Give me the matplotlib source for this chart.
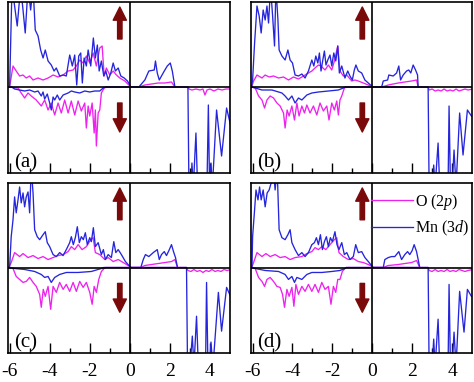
import numpy as np
import matplotlib
matplotlib.use("Agg")
import matplotlib.pyplot as plt
from matplotlib.lines import Line2D

plt.rcParams['font.family'] = ['Liberation Serif', 'DejaVu Serif']
plt.rcParams['axes.unicode_minus'] = False
plt.rcParams['mathtext.fontset'] = 'custom'
plt.rcParams['mathtext.rm'] = 'Liberation Serif'
plt.rcParams['mathtext.it'] = 'Liberation Serif:italic'

# ---------------- data: (energy eV, DOS arb. units) ----------------
a_mn_up = [(-6.00,0),(-5.88,100),(-5.75,81),(-5.62,61),(-5.45,100),(-5.33,77),(-5.22,54),(-5.08,100),(-4.95,77),(-4.83,100),(-4.72,57),(-4.58,51),(-4.45,37),(-4.33,29),(-4.22,37),(-4.08,26),(-3.92,22),(-3.78,16),(-3.67,19),(-3.50,11),(-3.33,12),(-3.17,11),(-3.00,32),(-2.87,21),(-2.75,32),(-2.65,2),(-2.55,31),(-2.45,34),(-2.37,4),(-2.28,29),(-2.17,21),(-2.08,37),(-1.95,21),(-1.82,49),(-1.72,29),(-1.62,42),(-1.53,16),(-1.42,26),(-1.30,11),(-1.20,16),(-1.08,7),(-0.95,14),(-0.83,24),(-0.72,16),(-0.58,19),(-0.45,11),(-0.28,9),(-0.12,6),(0.00,2),(0.05,0),(0.45,0),(0.75,7),(0.95,16),(1.22,17),(1.28,26),(1.37,14),(1.47,7),(1.72,16),(1.87,21),(2.02,24),(2.12,16),(2.25,0)]
a_o_up = [(-6.0,0),(-5.83,21),(-5.67,16),(-5.5,11),(-5.33,12),(-5.17,9),(-5.0,11),(-4.83,7),(-4.58,9),(-4.33,7),(-4.08,9),(-3.83,12),(-3.58,10),(-3.33,12),(-3.08,16),(-2.83,17),(-2.67,21),(-2.5,27),(-2.33,24),(-2.17,31),(-2.0,24),(-1.83,34),(-1.67,21),(-1.5,39),(-1.38,41),(-1.28,11),(-1.17,19),(-1.0,12),(-0.83,16),(-0.67,12),(-0.5,9),(-0.25,6),(0.0,1),(0.05,0),(0.45,0),(0.75,2),(1.42,4),(1.75,4),(2.08,5),(2.25,0)]
a_mn_dn = [(-6.0,0),(-5.9,0),(-5.75,-2),(-5.5,-3),(-5.25,-4),(-5.0,-3),(-4.75,-5),(-4.58,-4),(-4.42,-9),(-4.33,-5),(-4.25,-12),(-4.12,-7),(-4.0,-16),(-3.92,-23),(-3.83,-10),(-3.75,-13),(-3.62,-8),(-3.5,-13),(-3.33,-8),(-3.08,-6),(-2.92,-4),(-2.75,-5),(-2.5,-6),(-2.25,-4),(-2.0,-5),(-1.75,-4),(-1.5,-4),(-1.33,-1),(-1.2,0),(2.9,0),(2.95,-100),(3.05,-100),(3.1,-76),(3.17,-100),(3.3,-46),(3.38,-100),(3.85,-100),(3.92,-18),(3.98,-100),(4.05,-76),(4.12,-100),(4.33,-23),(4.58,-69),(4.83,-21),(5.05,-40)]
a_o_dn = [(-6.0,0),(-5.58,-1),(-5.42,-6),(-5.25,-11),(-5.08,-6),(-4.92,-9),(-4.67,-13),(-4.42,-19),(-4.25,-13),(-4.08,-23),(-3.92,-16),(-3.75,-28),(-3.58,-16),(-3.42,-26),(-3.25,-13),(-3.08,-26),(-2.92,-14),(-2.75,-28),(-2.58,-14),(-2.42,-24),(-2.25,-16),(-2.17,-41),(-2.08,-19),(-2.0,-29),(-1.88,-16),(-1.78,-46),(-1.72,-23),(-1.67,-59),(-1.58,-26),(-1.5,-23),(-1.42,-6),(-1.28,-1),(-1.17,0),(2.9,0),(2.95,-2),(3.1,-3),(3.3,-2),(3.5,-3),(3.65,-2),(3.75,-8),(3.85,-3),(4.0,-2),(4.2,-4),(4.4,-2),(4.6,-3),(4.8,-2),(5.05,-2)]

b_mn_up = [(-6.05,0),(-6.0,7),(-5.9,44),(-5.78,81),(-5.67,71),(-5.57,54),(-5.47,77),(-5.37,67),(-5.28,81),(-5.2,64),(-5.1,100),(-5.0,72),(-4.9,41),(-4.83,100),(-4.73,67),(-4.67,37),(-4.53,31),(-4.37,27),(-4.23,37),(-4.12,27),(-4.0,24),(-3.87,12),(-3.7,11),(-3.53,13),(-3.37,9),(-3.2,16),(-3.03,27),(-2.93,21),(-2.83,31),(-2.73,24),(-2.65,34),(-2.57,16),(-2.48,27),(-2.4,36),(-2.32,22),(-2.23,27),(-2.12,32),(-2.03,21),(-1.93,34),(-1.83,26),(-1.73,41),(-1.65,14),(-1.53,21),(-1.37,9),(-1.23,16),(-1.12,11),(-1.0,7),(-0.9,17),(-0.82,22),(-0.7,16),(-0.53,14),(-0.37,7),(-0.2,4),(-0.03,1),(0.0,0),(0.47,0),(0.55,6),(0.77,7),(0.83,12),(1.05,11),(1.22,14),(1.33,21),(1.42,7),(1.55,12),(1.72,16),(1.83,17),(1.93,14),(2.05,22),(2.17,17),(2.27,12),(2.3,0)]
b_o_up = [(-6.05,0),(-5.95,6),(-5.78,12),(-5.53,9),(-5.37,12),(-5.17,10),(-4.95,11),(-4.7,9),(-4.45,10),(-4.2,7),(-3.95,10),(-3.7,8),(-3.45,11),(-3.2,14),(-3.03,16),(-2.87,19),(-2.7,22),(-2.57,21),(-2.37,17),(-2.2,22),(-2.03,17),(-1.9,26),(-1.73,41),(-1.62,16),(-1.45,11),(-1.28,12),(-1.03,6),(-0.87,7),(-0.7,6),(-0.45,4),(-0.2,2),(0.0,0),(0.47,0),(0.8,2),(1.3,4),(1.63,5),(1.97,6),(2.22,7),(2.3,0)]
b_mn_dn = [(-6.05,0),(-5.87,-1),(-5.53,-3),(-5.03,-3),(-4.53,-6),(-4.37,-9),(-4.2,-13),(-4.03,-9),(-3.87,-16),(-3.7,-11),(-3.53,-13),(-3.28,-8),(-3.03,-6),(-2.7,-5),(-2.2,-4),(-1.7,-3),(-1.45,-1),(-1.35,0),(2.8,0),(2.85,-100),(3.0,-100),(3.08,-78),(3.15,-100),(3.3,-56),(3.38,-100),(3.8,-100),(3.85,-19),(3.92,-100),(4.0,-100),(4.1,-63),(4.2,-100),(4.38,-26),(4.55,-68),(4.77,-23),(4.97,-29),(5.05,-30)]
b_o_dn = [(-6.05,0),(-5.87,-1),(-5.7,-9),(-5.53,-13),(-5.4,-21),(-5.28,-13),(-5.12,-9),(-4.95,-11),(-4.78,-16),(-4.62,-19),(-4.45,-26),(-4.37,-41),(-4.27,-23),(-4.17,-29),(-4.03,-19),(-3.9,-33),(-3.78,-16),(-3.67,-29),(-3.53,-19),(-3.4,-26),(-3.28,-18),(-3.12,-26),(-2.95,-19),(-2.78,-28),(-2.62,-16),(-2.45,-24),(-2.28,-19),(-2.17,-33),(-2.03,-16),(-1.9,-23),(-1.78,-14),(-1.7,-28),(-1.62,-13),(-1.53,-9),(-1.4,-1),(-1.3,0),(2.8,0),(2.85,-3),(3.0,-2),(3.15,-4),(3.3,-3),(3.45,-4),(3.6,-2),(3.75,-4),(3.9,-3),(4.05,-4),(4.2,-2),(4.35,-4),(4.5,-3),(4.65,-2),(4.8,-3),(5.05,-2)]

c_mn_up = [(-6.05,0),(-6.0,0),(-5.92,31),(-5.83,48),(-5.75,71),(-5.67,55),(-5.58,68),(-5.5,81),(-5.42,65),(-5.33,75),(-5.25,61),(-5.17,71),(-5.08,76),(-5.0,55),(-4.92,100),(-4.83,75),(-4.75,38),(-4.62,31),(-4.5,28),(-4.33,33),(-4.22,36),(-4.12,25),(-4.0,21),(-3.83,13),(-3.67,11),(-3.5,15),(-3.33,12),(-3.17,18),(-3.0,25),(-2.92,31),(-2.82,23),(-2.72,30),(-2.62,41),(-2.52,25),(-2.42,31),(-2.32,28),(-2.22,35),(-2.12,23),(-2.0,30),(-1.92,26),(-1.82,40),(-1.72,21),(-1.58,25),(-1.42,13),(-1.32,18),(-1.22,8),(-1.08,13),(-0.92,10),(-0.8,26),(-0.7,15),(-0.58,18),(-0.42,13),(-0.22,6),(0.0,1),(0.05,0),(0.55,0),(0.67,8),(0.78,13),(0.95,11),(1.17,15),(1.37,18),(1.47,8),(1.58,13),(1.72,16),(1.83,12),(1.95,17),(2.08,23),(2.18,16),(2.28,10),(2.38,0)]
c_o_up = [(-6.05,0),(-5.92,5),(-5.75,15),(-5.5,11),(-5.33,14),(-5.08,10),(-4.83,12),(-4.58,9),(-4.33,11),(-4.08,8),(-3.83,10),(-3.58,12),(-3.33,13),(-3.08,16),(-2.92,21),(-2.75,18),(-2.58,23),(-2.38,18),(-2.17,21),(-1.95,28),(-1.83,30),(-1.72,15),(-1.5,13),(-1.25,8),(-1.08,10),(-0.83,6),(-0.58,8),(-0.33,5),(0.0,1),(0.05,0),(0.55,0),(0.75,2),(1.08,3),(1.42,4),(1.75,5),(2.08,6),(2.25,8),(2.38,0)]
c_mn_dn = [(-6.05,0),(-5.75,-1),(-5.25,-2),(-4.75,-4),(-4.42,-7),(-4.25,-10),(-4.08,-9),(-3.92,-15),(-3.75,-10),(-3.5,-7),(-3.17,-5),(-2.58,-5),(-1.92,-4),(-1.42,-1),(-1.3,0),(2.83,0),(2.88,-100),(3.0,-100),(3.12,-69),(3.2,-100),(3.33,-49),(3.42,-100),(3.78,-100),(3.83,-15),(3.9,-100),(3.98,-100),(4.05,-75),(4.15,-100),(4.42,-25),(4.58,-64),(4.83,-20),(5.05,-30)]
c_o_dn = [(-6.05,0),(-5.83,-1),(-5.67,-9),(-5.5,-12),(-5.33,-15),(-5.17,-14),(-5.0,-10),(-4.83,-15),(-4.67,-19),(-4.5,-27),(-4.42,-40),(-4.32,-22),(-4.22,-29),(-4.08,-19),(-3.95,-42),(-3.83,-19),(-3.67,-25),(-3.5,-15),(-3.33,-22),(-3.17,-17),(-3.0,-24),(-2.83,-15),(-2.67,-24),(-2.5,-14),(-2.33,-20),(-2.17,-15),(-2.0,-25),(-1.88,-37),(-1.78,-19),(-1.67,-25),(-1.55,-12),(-1.42,-4),(-1.28,-1),(-1.2,0),(2.83,0),(2.9,-3),(3.05,-4),(3.2,-2),(3.35,-4),(3.5,-3),(3.65,-5),(3.8,-3),(3.95,-4),(4.1,-2),(4.25,-4),(4.4,-3),(4.55,-4),(4.7,-2),(4.85,-3),(5.05,-2)]

d_mn_up = [(-6.05,0),(-6.03,0),(-6.0,31),(-5.9,58),(-5.83,78),(-5.73,68),(-5.65,81),(-5.57,68),(-5.47,78),(-5.37,61),(-5.27,75),(-5.17,78),(-5.07,85),(-4.97,100),(-4.87,78),(-4.77,100),(-4.67,38),(-4.53,30),(-4.37,28),(-4.23,33),(-4.12,38),(-4.03,25),(-3.87,18),(-3.7,12),(-3.53,15),(-3.37,11),(-3.2,15),(-3.03,23),(-2.9,25),(-2.8,30),(-2.7,23),(-2.6,33),(-2.5,18),(-2.4,26),(-2.3,31),(-2.2,21),(-2.1,30),(-2.0,26),(-1.87,36),(-1.77,23),(-1.67,18),(-1.53,25),(-1.4,13),(-1.28,15),(-1.12,8),(-0.95,11),(-0.83,23),(-0.7,15),(-0.53,16),(-0.37,10),(-0.2,6),(0.0,1),(0.05,0),(0.55,0),(0.63,8),(0.8,10),(0.97,11),(1.13,11),(1.33,16),(1.47,8),(1.63,13),(1.77,16),(1.88,13),(2.0,17),(2.1,23),(2.22,16),(2.3,8),(2.38,0)]
d_o_up = [(-6.05,0),(-5.95,5),(-5.78,15),(-5.53,11),(-5.33,14),(-5.12,11),(-4.87,13),(-4.62,10),(-4.37,11),(-4.12,8),(-3.87,10),(-3.53,11),(-3.28,14),(-3.03,16),(-2.87,20),(-2.7,18),(-2.53,21),(-2.33,18),(-2.12,23),(-1.9,28),(-1.78,30),(-1.67,15),(-1.45,11),(-1.2,8),(-0.95,9),(-0.7,6),(-0.45,5),(-0.2,3),(0.0,1),(0.05,0),(0.55,0),(0.8,2),(1.3,3),(1.63,4),(1.97,5),(2.22,7),(2.38,0)]
d_mn_dn = [(-6.05,0),(-5.87,-1),(-5.37,-3),(-4.7,-4),(-4.37,-7),(-4.2,-12),(-4.03,-9),(-3.9,-15),(-3.78,-10),(-3.53,-12),(-3.28,-7),(-3.03,-5),(-2.53,-5),(-2.03,-4),(-1.62,-3),(-1.37,-1),(-1.3,0),(2.8,0),(2.85,-100),(3.0,-100),(3.08,-72),(3.15,-100),(3.3,-52),(3.38,-100),(3.8,-100),(3.85,-17),(3.92,-100),(4.0,-100),(4.1,-65),(4.2,-100),(4.38,-24),(4.6,-65),(4.77,-22),(4.97,-29),(5.05,-30)]
d_o_dn = [(-6.05,0),(-5.87,-1),(-5.7,-10),(-5.53,-14),(-5.4,-19),(-5.28,-12),(-5.12,-10),(-4.95,-14),(-4.78,-19),(-4.62,-20),(-4.5,-27),(-4.4,-40),(-4.28,-22),(-4.17,-29),(-4.03,-20),(-3.93,-39),(-3.83,-17),(-3.7,-27),(-3.53,-19),(-3.37,-24),(-3.2,-17),(-3.03,-24),(-2.87,-17),(-2.7,-25),(-2.53,-15),(-2.37,-22),(-2.2,-19),(-2.07,-37),(-1.95,-19),(-1.83,-25),(-1.73,-12),(-1.62,-12),(-1.5,-4),(-1.37,-1),(-1.3,0),(2.8,0),(2.85,-3),(3.0,-4),(3.15,-2),(3.3,-4),(3.45,-3),(3.6,-4),(3.75,-2),(3.9,-4),(4.05,-3),(4.2,-4),(4.35,-2),(4.5,-3),(4.65,-4),(4.8,-3),(5.05,-2)]

panel_labels = ['(a)', '(b)', '(c)', '(d)']
series_labels = ['O (2$p$)', 'Mn (3$d$)']
xticks = [-6, -4, -2, 0, 2, 4]

O_COLOR = '#EE22EE'
MN_COLOR = '#2525DD'
ARROW_COLOR = '#7A0A0A'

W, H = 474, 382
fig = plt.figure(figsize=(W/100, H/100), dpi=100)

# pixel boxes: left, top, right, bottom
boxes = [(8, 2, 230, 173), (251, 2, 472, 173), (8, 183, 230, 353), (251, 183, 472, 353)]
panels = [(a_o_up, a_mn_up, a_o_dn, a_mn_dn),
          (b_o_up, b_mn_up, b_o_dn, b_mn_dn),
          (c_o_up, c_mn_up, c_o_dn, c_mn_dn),
          (d_o_up, d_mn_up, d_o_dn, d_mn_dn)]

arrow_style = 'simple,head_length=0.95,head_width=0.95,tail_width=0.32'

axes = []
for i, ((l, t, r, b), curves) in enumerate(zip(boxes, panels)):
    ax = fig.add_axes([l/W, (H-b)/H, (r-l)/W, (b-t)/H])
    axes.append(ax)
    o_up, mn_up, o_dn, mn_dn = curves
    for data, col in [(o_up, O_COLOR), (mn_up, MN_COLOR), (o_dn, O_COLOR), (mn_dn, MN_COLOR)]:
        arr = np.array(data, dtype=float)
        ax.plot(arr[:, 0], arr[:, 1], color=col, lw=0.95)
    ax.axhline(0, color='black', lw=1.2, zorder=5)
    ax.axvline(0, color='black', lw=1.2, zorder=5)
    ax.set_xlim(-6.08, 5.0)
    ax.set_ylim(-86, 85)
    ax.set_yticks([])
    ax.set_xticks(xticks)
    ax.set_xticks([-5, -3, -1, 1, 3], minor=True)
    ax.tick_params(axis='x', which='major', direction='in', length=7, width=1.0,
                   labelsize=14, pad=7, bottom=True, top=False)
    ax.tick_params(axis='x', which='minor', direction='in', length=3.6, width=1.0,
                   bottom=True, top=False)
    if i < 2:
        ax.tick_params(axis='x', labelbottom=False)
    for s in ax.spines.values():
        s.set_linewidth(1.2)
    # spin arrows
    ax.annotate('', xy=(-0.5, 80), xytext=(-0.5, 48),
                arrowprops=dict(arrowstyle=arrow_style, color=ARROW_COLOR,
                                shrinkA=0, shrinkB=0, mutation_scale=10), zorder=6)
    ax.annotate('', xy=(-0.5, -45), xytext=(-0.5, -16),
                arrowprops=dict(arrowstyle=arrow_style, color=ARROW_COLOR,
                                shrinkA=0, shrinkB=0, mutation_scale=10), zorder=6)
    ax.text(-5.78, -85, panel_labels[i], fontsize=15, ha='left', va='bottom')

handles = [Line2D([], [], color=O_COLOR, lw=0.95), Line2D([], [], color=MN_COLOR, lw=0.95)]
axes[3].legend(handles, series_labels, loc='upper left', bbox_to_anchor=(0.545, 0.95),
               frameon=False, fontsize=11.5, handlelength=2.6, handletextpad=0.15,
               labelspacing=0.45, borderpad=0, borderaxespad=0)

fig.savefig('out.png', dpi=100)
